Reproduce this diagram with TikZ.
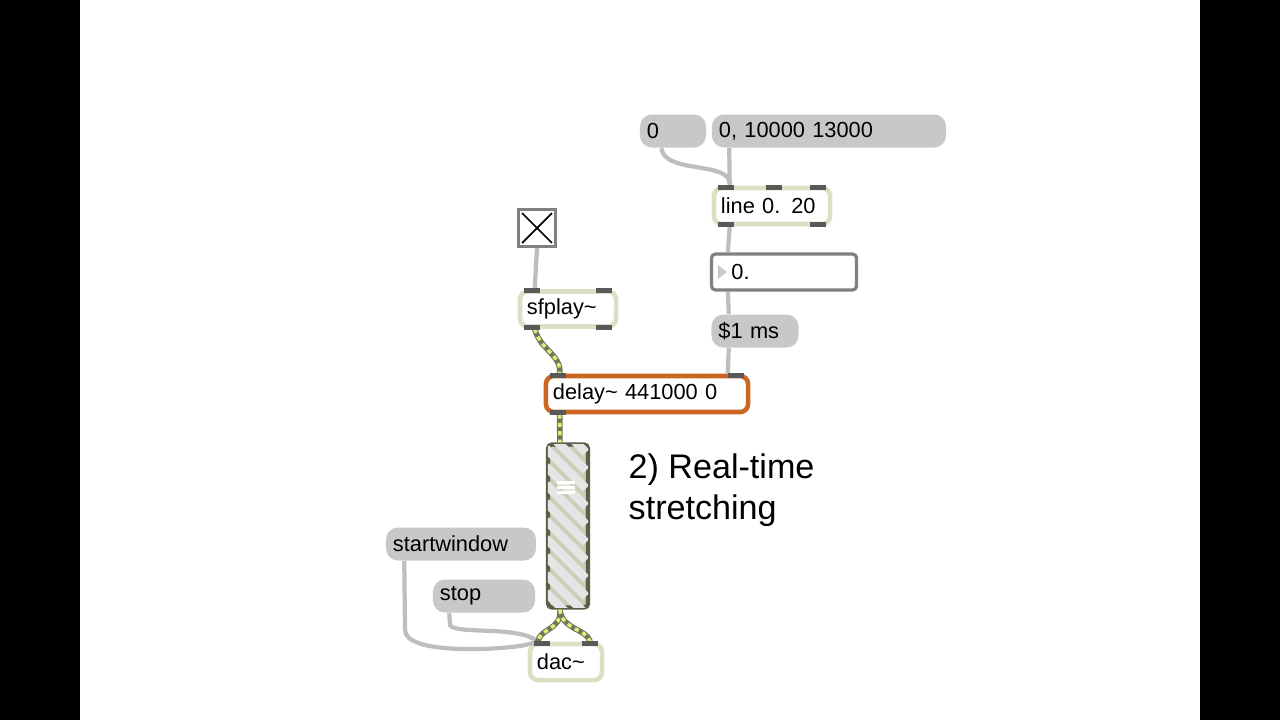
\documentclass[tikz,border=0pt]{standalone}
\usepackage{fontspec}
\setmainfont{Liberation Sans}
\usetikzlibrary{calc}
\definecolor{msggray}{RGB}{200,200,200}
\definecolor{objedge}{RGB}{218,224,196}
\definecolor{cordgray}{RGB}{190,190,190}
\definecolor{sigyel}{RGB}{226,236,120}
\definecolor{sigdark}{RGB}{110,120,90}
\definecolor{delayor}{RGB}{204,102,34}
\tikzstyle{box} = [inner xsep=0.07cm, inner ysep=0pt, align=left, font=\fontsize{6.2}{7}\selectfont]
\tikzstyle{msg} = [box, fill=msggray, rounded corners=0.12cm]
\tikzstyle{obj} = [box, draw=objedge, line width=1.3pt, fill=white, rounded corners=0.08cm]
\tikzstyle{cord} = [draw=cordgray, line width=1.2pt]
\tikzstyle{sig} = [draw=sigdark, line width=1.6pt, postaction={draw=sigyel, line width=1pt, dash pattern=on 1.2pt off 1.2pt}]
\begin{document}
\begin{tikzpicture}[x=0.01cm, y=-0.01cm]
\fill[black] (0,0) rectangle (1280,720);
\fill[white] (80,0) rectangle (1200,720);
% messages and objects
\node (zero) at (673,131) [msg, minimum height=0.33cm, text width=0.52cm] {0};
\node (range) at (829,131) [msg, minimum height=0.33cm, text width=2.2cm] {0, 10000 13000};
\node (line) at (772,206) [obj, minimum height=0.36cm, text width=1.02cm] {line 0. 20};
\node (num) at (784,272) [box, draw=gray, line width=0.9pt, rounded corners=0.04cm, minimum height=0.36cm, text width=1.31cm] {\hspace{0.13cm}0.};
\fill[msggray] ($(num.west)+(8,-7)$) -- ++(0,14) -- ++(9,-7) -- cycle;
\node (ms) at (755,331) [msg, minimum height=0.33cm, text width=0.73cm] {\$1 ms};
\node (tog) at (537,228) [draw=gray, line width=0.8pt, fill=white, minimum width=0.37cm, minimum height=0.37cm] {};
\draw[line width=0.5pt] ($(tog.south west)+(5,-5)$) -- ($(tog.north east)+(-5,5)$)
  ($(tog.north west)+(5,5)$) -- ($(tog.south east)+(-5,-5)$);
\node (sfplay) at (568,309) [obj, minimum height=0.35cm, text width=0.82cm] {sfplay\textasciitilde};
\node (delay) at (647,394) [obj, draw=delayor, minimum height=0.36cm, text width=1.88cm] {delay\textasciitilde\ 441000 0};
\node (gain) at (568,526) [draw=sigdark!80!black, line width=1.2pt, fill=sigyel!35!gray!55, rounded corners=0.04cm, minimum width=0.4cm, minimum height=1.63cm] {};
\begin{scope}
\clip ($(gain.north west)+(2,2)$) rectangle ($(gain.south east)+(-2,-2)$);
\foreach \k in {0,...,11}
  \draw[white!80!gray, line width=2.5pt] ($(gain.north west)+(0,-30+18*\k)$) -- ++(40,40);
\end{scope}
\foreach \k in {0,1,2}
  \draw[white, line width=1pt] ($(gain.north west)+(11,40+5*\k)$) -- ++(18,0);
\node (start) at (461,544) [msg, minimum height=0.33cm, text width=1.36cm] {startwindow};
\node (stop) at (484,596) [msg, minimum height=0.33cm, text width=0.88cm] {stop};
\node (dac) at (566,662) [obj, minimum height=0.36cm, text width=0.58cm] {dac\textasciitilde};
\node (note) at (628,490) [anchor=west, inner sep=0pt, align=left, font=\fontsize{9.7}{11.5}\selectfont] {2) Real-time\\stretching};
% cords
\path [cord] ($(zero.south west)+(22,0)$) .. controls (665,175) and (733,160) .. ($(line.north west)+(18,0)$);
\path [cord] ($(range.south west)+(18,0)$) -- ($(line.north west)+(18,0)$);
\path [cord] ($(line.south west)+(18,0)$) -- ($(num.north west)+(18,0)$);
\path [cord] ($(num.south west)+(18,0)$) -- ($(ms.north west)+(18,0)$);
\path [cord] ($(ms.south west)+(18,0)$) -- ($(delay.north west)+(184,0)$);
\path [cord] (tog.south) -- ($(sfplay.north west)+(17,0)$);
\path [cord] ($(start.south west)+(19,0)$) -- (405,630) .. controls (405,655) and (500,650) .. (525,645) -- ($(dac.north west)+(10,0)$);
\path [cord] ($(stop.south west)+(17,0)$) -- (450,625) .. controls (455,635) and (520,625) .. ($(dac.north west)+(10,0)$);
\path [sig] ($(sfplay.south west)+(17,0)$) .. controls (540,350) and (562,355) .. ($(delay.north west)+(16,0)$);
\path [sig] ($(delay.south west)+(16,0)$) -- ($(gain.north west)+(14,0)$);
\path [sig] ($(gain.south west)+(14,0)$) .. controls (562,630) and (540,628) .. ($(dac.north west)+(10,0)$);
\path [sig] ($(gain.south west)+(14,0)$) .. controls (562,630) and (586,628) .. ($(dac.north east)+(-14,0)$);
% inlets and outlets
\foreach \n in {line,sfplay,delay,dac} {
  \fill[gray!70!black] ($(\n.north west)+(6,-1)$) rectangle ++(16,5);
  \fill[gray!70!black] ($(\n.north east)+(-6,-1)$) rectangle ++(-16,5);
}
\foreach \n in {line,sfplay,delay}
  \fill[gray!70!black] ($(\n.south west)+(6,1)$) rectangle ++(16,-5);
\fill[gray!70!black] ($(line.north west)+(54,-1)$) rectangle ++(16,5);
\fill[gray!70!black] ($(line.south east)+(-6,1)$) rectangle ++(-16,-5);
\fill[gray!70!black] ($(sfplay.south east)+(-6,1)$) rectangle ++(-16,-5);
\end{tikzpicture}
\end{document}
